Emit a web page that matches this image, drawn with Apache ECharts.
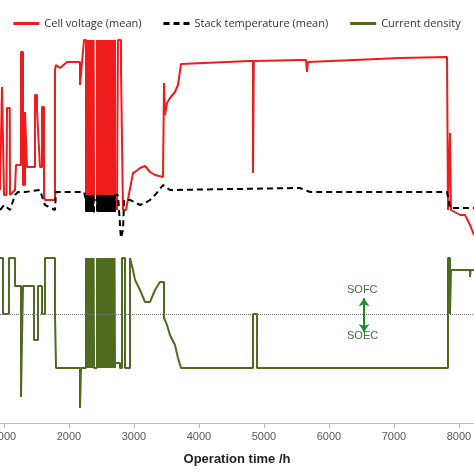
<!DOCTYPE html>
<html><head><meta charset="utf-8">
<script src="https://cdn.jsdelivr.net/npm/echarts@6/dist/echarts.min.js"></script>
<style>html,body{margin:0;padding:0;background:#fff}#c{width:474px;height:474px}</style>
</head><body><div id="c"></div>
<script>
const xTicks=[1000,2000,3000,4000,5000,6000,7000,8000];
const blockA=[2263,2278,2293,2308,2323,2338,2353,2368,2380];
const blockB=[2432,2447,2462,2477,2492,2507,2522,2537,2552,2567,2582,2597,2612,2627,2642,2657,2672,2687,2702];
const voltBefore=[[940,0.55],[965,0.55],[971,1.065],[990,1.065],[1002,0.525],[1040,0.525],[1048,0.96],[1090,0.96],[1094,0.525],[1171,0.55],[1186,0.675],[1263,0.675],[1263,1.24],[1294,1.24],[1294,0.575],[1325,0.575],[1325,0.94],[1355,0.94],[1355,0.665],[1478,0.665],[1478,1.025],[1509,1.025],[1509,0.95],[1525,0.95],[1555,0.665],[1586,0.665],[1586,0.965],[1617,0.965],[1617,0.525],[1632,0.5],[1786,0.5],[1786,1.15],[1802,1.175],[1832,1.175],[1863,1.16],[1971,1.19],[2171,1.19],[2171,1.075],[2186,1.075],[2202,1.19],[2232,1.30],[2263,1.30]];
const voltAfter=[[2709,1.30],[2709,0.5],[2740,0.45],[2755,0.45],[2755,1.30],[2802,1.30],[2802,1.14],[2832,1.14],[2832,0.45],[2878,0.45],[2986,0.635],[3017,0.64],[3094,0.66],[3171,0.67],[3248,0.64],[3325,0.625],[3448,0.615],[3463,0.615],[3463,1.085],[3478,0.925],[3509,0.985],[3555,1.01],[3632,1.04],[3678,1.075],[3725,1.18],[4786,1.195],[4832,1.195],[4832,0.635],[4845,0.635],[4845,1.195],[5555,1.20],[5648,1.20],[5663,1.14],[5678,1.19],[7094,1.21],[7817,1.215],[7832,1.215],[7832,0.45],[7863,0.835],[7878,0.45],[8017,0.425],[8094,0.425],[8171,0.375],[8232,0.325]];
const voltBlock=[1.30,0.50];
const tempBefore=[[940,790],[1002,795],[1094,790],[1171,805],[1217,808],[1325,808],[1555,810],[1632,795],[1786,790],[1802,808],[2232,808],[2263,800]];
const tempAfter=[[2709,805],[2755,805],[2800,762],[2832,770],[2850,800],[2940,800],[3094,795],[3171,797],[3248,800],[3325,805],[3448,815],[3555,810],[5555,812],[5709,808],[7817,808],[7863,792],[8232,792]];
const tempBlock=[805,788];
const curBefore=[[940,0.5],[986,0.5],[986,0],[1078,0],[1078,0.5],[1171,0.5],[1171,0.25],[1263,0.25],[1263,-0.741],[1278,-0.741],[1278,-0.232],[1294,-0.232],[1294,0.25],[1463,0.25],[1463,-0.232],[1525,-0.232],[1525,0.25],[1586,0.25],[1586,0],[1632,0],[1632,0.5],[1786,0.5],[1786,0],[1802,0],[1802,-0.482],[2171,-0.482],[2171,-0.839],[2186,-0.839],[2186,-0.482],[2263,-0.482]];
const curAfter=[[2709,-0.4375],[2786,-0.4375],[2786,-0.482],[2817,-0.482],[2817,0.5],[2863,0.5],[2863,-0.482],[2940,-0.482],[2940,0.5],[2986,0.393],[3017,0.304],[3094,0.214],[3171,0.107],[3248,0.107],[3325,0.214],[3400,0.286],[3463,0.286],[3463,-0.036],[3509,-0.098],[3555,-0.1875],[3632,-0.277],[3678,-0.393],[3725,-0.482],[4832,-0.482],[4832,0],[4894,0],[4894,-0.482],[7832,-0.482],[7832,0.5],[7863,0.5],[7863,0],[7878,0],[7878,0.393],[8171,0.393],[8171,0.33],[8180,0.393],[8232,0.393]];
const curBlock=[0.5,-0.482];

function zig(times,hl){const o=[];times.forEach(t=>{o.push([t,hl[1]],[t,hl[0]],[t+7,hl[0]],[t+7,hl[1]]);});return o;}
function build(a,b,hl){return a.concat(zig(blockA,hl),zig(blockB,hl),b);}

const RED='#ee1c1c',GREEN='#4e6b1f';
const solidIcon='path://M0,0 L26,0 L26,3 L0,3 Z';
const dashIcon='path://M0,0 L6,0 L6,3 L0,3 Z M10,0 L16,0 L16,3 L10,3 Z M20,0 L26,0 L26,3 L20,3 Z';
const chart=echarts.init(document.getElementById('c'));
chart.setOption({
 animation:false,
 legend:{top:13,left:'center',itemWidth:26,itemHeight:3,itemGap:22,textStyle:{fontSize:11,color:'#333',fontFamily:'Open Sans'},
  data:[{name:'Cell voltage (mean)',icon:solidIcon},{name:'Stack temperature (mean)',icon:dashIcon},{name:'Current density',icon:solidIcon}]},
 grid:[{left:0,right:0,top:35,height:205,containLabel:false,outerBoundsMode:'none'},{left:0,right:0,top:250,height:173,containLabel:false,outerBoundsMode:'none'}],
 xAxis:[
  {gridIndex:0,type:'value',min:940,max:8232,show:false},
  {gridIndex:1,type:'value',min:940,max:8232,
   axisLine:{onZero:false,lineStyle:{color:'#bbb'}},splitLine:{show:false},
   axisLabel:{color:'#555',fontSize:11,customValues:xTicks,formatter:v=>String(v)},
   axisTick:{customValues:xTicks,lineStyle:{color:'#bbb'}},
   name:'Operation time /h',nameLocation:'middle',nameGap:30,nameTextStyle:{fontWeight:'bold',fontSize:13,color:'#222'}}
 ],
 yAxis:[
  {gridIndex:0,type:'value',min:0.30,max:1.325,show:false},
  {gridIndex:0,type:'value',min:760,max:965,show:false},
  {gridIndex:1,type:'value',min:-0.973,max:0.571,show:false}
 ],
 series:[
  {name:'Cell voltage (mean)',type:'line',symbol:'none',xAxisIndex:0,yAxisIndex:0,lineStyle:{color:RED,width:2},itemStyle:{color:RED},data:build(voltBefore,voltAfter,voltBlock),z:2},
  {name:'Stack temperature (mean)',type:'line',symbol:'none',xAxisIndex:0,yAxisIndex:1,lineStyle:{color:'#000',width:2,type:[6,4]},itemStyle:{color:'#000'},data:build(tempBefore,tempAfter,tempBlock),z:3},
  {name:'Current density',type:'line',symbol:'none',xAxisIndex:1,yAxisIndex:2,lineStyle:{color:GREEN,width:2},itemStyle:{color:GREEN},data:build(curBefore,curAfter,curBlock),
   markLine:{silent:true,symbol:'none',label:{show:false},lineStyle:{color:'#777',type:'dotted',width:1},data:[{yAxis:0}]}},
  {type:'line',xAxisIndex:1,yAxisIndex:2,symbol:'none',data:[],
   markLine:{silent:true,symbol:['arrow','arrow'],symbolSize:8,label:{show:false},lineStyle:{color:'#1e8a2e',type:'solid',width:2},
   data:[[{coord:[6540,0.14]},{coord:[6540,-0.16]}]]}}
 ],
 graphic:[
  {type:'text',left:347,top:284,style:{text:'SOFC',fontSize:11,fill:'#3d6b3d',fontFamily:'Liberation Sans'}},
  {type:'text',left:347,top:330,style:{text:'SOEC',fontSize:11,fill:'#3d6b3d',fontFamily:'Liberation Sans'}}
 ]
});
</script></body></html>
